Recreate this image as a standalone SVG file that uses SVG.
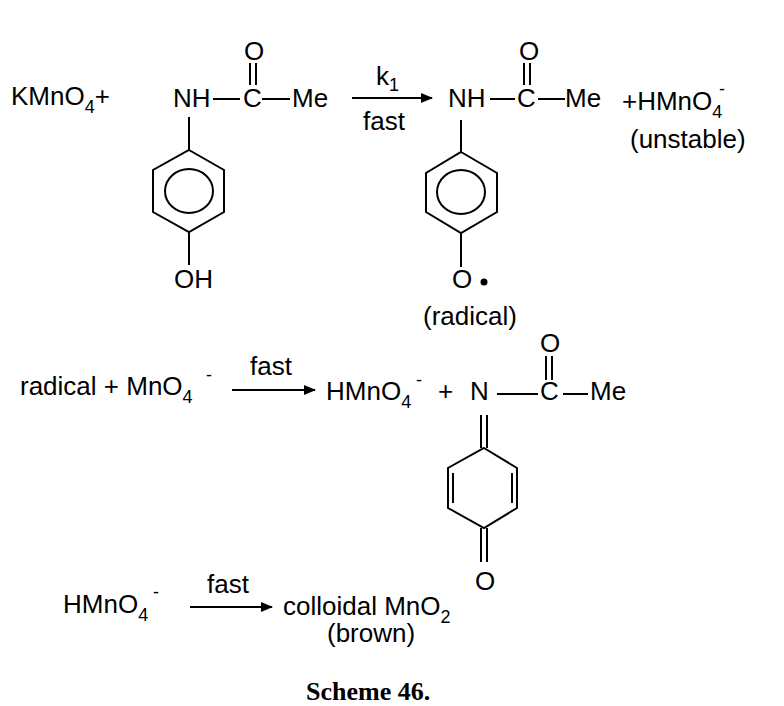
<svg xmlns="http://www.w3.org/2000/svg" width="784" height="706" viewBox="0 0 784 706">
<style>
text{font-family:"Liberation Sans",Arial,sans-serif;font-size:26px;fill:#000}
.s{font-size:18px}
.b{stroke:#000;stroke-width:2;fill:none}
.t{font-family:"Liberation Serif","Times New Roman",serif;font-weight:bold;font-size:26px}
</style>
<defs><marker id="ah" markerWidth="12" markerHeight="10" refX="11" refY="5" orient="auto" markerUnits="userSpaceOnUse"><path d="M0,0 L12,5 L0,10 Z" fill="#000"/></marker></defs>
<rect width="784" height="706" fill="#fff"/>
<g id="kmno4"><text x="11" y="105">KMnO<tspan class="s" dy="8">4</tspan><tspan dy="-8">+</tspan></text></g>
<g id="paracetamol">
<text x="173" y="107">NH</text><text x="243" y="107">C</text><text x="292" y="107">Me</text><text x="244" y="60">O</text>
<path class="b" d="M213,99H240M262,99H290M250,63V85M256,63V85M189,117V150M189,150L224,170V212L189,232L153,212V170Z M189,232V265"/>
<ellipse class="b" cx="189" cy="191" rx="24" ry="22"/>
<text x="174" y="288">OH</text>
</g>
<g id="radical">
<text x="448" y="107">NH</text><text x="517" y="107">C</text><text x="565" y="107">Me</text><text x="519" y="60">O</text>
<path class="b" d="M490,99H515M538,99H565M524,63V85M530,63V85M461,120V152M461,152L497,173V212L461,233L426,212V173Z M461,233V267"/>
<ellipse class="b" cx="461" cy="192" rx="24" ry="22"/>
<text x="452" y="288">O</text><circle cx="484" cy="282" r="3.5"/>
<text x="423" y="325">(radical)</text>
</g>
<g id="hmno4a"><text x="622" y="110">+HMnO<tspan class="s" dy="8">4</tspan></text><text class="s" x="719" y="95">-</text><text x="630" y="148">(unstable)</text></g>
<g id="row2left"><text x="20" y="395">radical + MnO<tspan class="s" dy="8">4</tspan></text><text class="s" x="206" y="381">-</text></g>
<g id="hmno4b"><text x="326" y="400">HMnO<tspan class="s" dy="8">4</tspan></text><text class="s" x="416" y="386">-</text><text x="438" y="400">+</text></g>
<g id="quinoneimine">
<text x="470" y="400">N</text><text x="540" y="400">C</text><text x="590" y="400">Me</text><text x="540" y="352">O</text>
<path class="b" d="M497,394H538M563,394H588M546,356V380M552,356V380M481,415V448M487,415V448M484,448L517,468V508L484,528L448,508V468Z M453,473V503M512,473V503M481,528V562M487,528V562"/>
<text x="475" y="590">O</text>
</g>
<g id="row3"><text x="63" y="613">HMnO<tspan class="s" dy="8">4</tspan></text><text class="s" x="153" y="598">-</text>
<text x="283" y="615">colloidal MnO<tspan class="s" dy="8">2</tspan></text><text x="327" y="642">(brown)</text></g>
<g id="connectors">
<line class="b" x1="352" y1="98" x2="432" y2="98" marker-end="url(#ah)"/>
<line class="b" x1="232" y1="390" x2="315" y2="390" marker-end="url(#ah)"/>
<line class="b" x1="190" y1="607" x2="272" y2="607" marker-end="url(#ah)"/>
<text x="376" y="85">k<tspan class="s" dy="6">1</tspan></text><text x="363" y="130">fast</text>
<text x="250" y="375">fast</text><text x="207" y="593">fast</text>
</g>
<text class="t" x="306" y="700">Scheme 46.</text>
</svg>
